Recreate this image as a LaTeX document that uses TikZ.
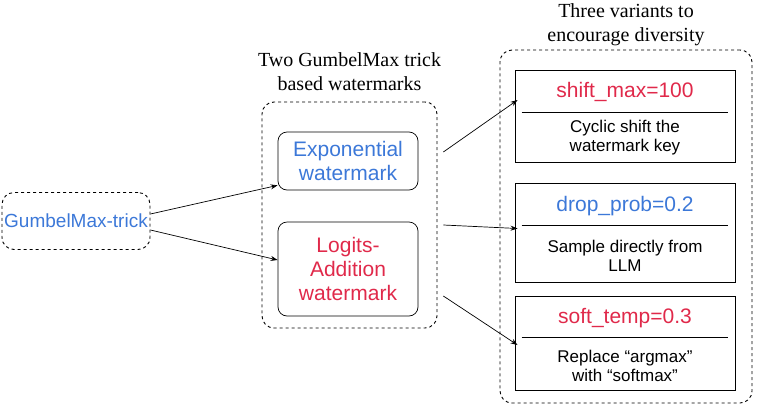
\documentclass[tikz,border=0pt]{standalone}
\usepackage{fontspec}
\setmainfont{Liberation Sans}
\newfontfamily\titlefont{Liberation Serif}
\usetikzlibrary{arrows.meta}
\definecolor{wmblue}{HTML}{3C78D8}
\definecolor{wmred}{HTML}{E0294A}
\tikzset{
  group/.style={draw, dashed, rounded corners=12pt, line width=0.9pt},
  wm/.style={draw, rounded corners=9pt, line width=0.7pt, minimum width=140pt, align=center, font=\fontsize{21}{24}\selectfont},
  variant/.style={draw, line width=0.9pt, minimum width=220pt, align=center},
  head/.style={font=\fontsize{21}{23}\selectfont},
  note/.style={font=\fontsize{17}{19}\selectfont, align=center},
  ttl/.style={align=center, font=\titlefont\fontsize{20}{24}\selectfont},
  link/.style={-{Stealth[length=7pt,width=5pt]}, line width=0.7pt}
}
\begin{document}
\begin{tikzpicture}[x=1pt,y=-1pt]
  \useasboundingbox (0,0) rectangle (757,410);
  % groups
  \node[group, minimum width=148pt, minimum height=57pt, inner sep=0pt, text=wmblue, font=\fontsize{19}{22}\selectfont] (gumbel) at (76,221) {GumbelMax-trick};
  \node[group, minimum width=175pt, minimum height=226pt] (mid) at (349.5,215) {};
  \node[group, minimum width=252pt, minimum height=353pt] (right) at (626,226.5) {};
  \node[ttl] (midtitle) at (349.5,72) {Two GumbelMax trick\\based watermarks};
  \node[ttl] (righttitle) at (626,25) {Three variants to\\encourage diversity};
  % watermarks
  \node[wm, minimum height=58pt, text=wmblue] (expo) at (348,161) {Exponential\\watermark};
  \node[wm, minimum height=94pt, text=wmred] (logits) at (348,269) {Logits-\\Addition\\watermark};
  % variants
  \node[variant, minimum height=92pt] (v1) at (625,116) {};
  \node[variant, minimum height=99pt] (v2) at (625,232.5) {};
  \node[variant, minimum height=94pt] (v3) at (625,343) {};
  \node[head, text=wmred] (h1) at (625,92) {shift\_max=100};
  \node[head, text=wmblue] (h2) at (625,206) {drop\_prob=0.2};
  \node[head, text=wmred] (h3) at (625,318) {soft\_temp=0.3};
  \node[note] (n1) at (625,138) {Cyclic shift the\\watermark key};
  \node[note] (n2) at (625,256) {Sample directly from\\LLM};
  \node[note] (n3) at (625,366) {Replace “argmax”\\with “softmax”};
  % separators
  \draw[line width=0.6pt] ([xshift=7pt,yshift=-43pt]v1.north west) -- ([xshift=-7pt,yshift=-43pt]v1.north east);
  \draw[line width=0.6pt] ([xshift=7pt,yshift=-43pt]v2.north west) -- ([xshift=-7pt,yshift=-43pt]v2.north east);
  \draw[line width=0.6pt] ([xshift=7pt,yshift=-42pt]v3.north west) -- ([xshift=-7pt,yshift=-42pt]v3.north east);
  % links
  \draw[link] ([yshift=7pt]gumbel.east) -- ([yshift=5pt]expo.south west);
  \draw[link] ([yshift=-9pt]gumbel.east) -- ([yshift=9pt]logits.west);
  \draw[link] ([xshift=25pt,yshift=9pt]expo.east) -- ([xshift=3pt,yshift=16pt]v1.west);
  \draw[link] ([xshift=25pt,yshift=-64pt]expo.east) -- ([xshift=3pt,yshift=4pt]v2.west);
  \draw[link] ([xshift=25pt,yshift=-27pt]logits.east) -- ([xshift=3pt,yshift=-2pt]v3.west);
\end{tikzpicture}
\end{document}
